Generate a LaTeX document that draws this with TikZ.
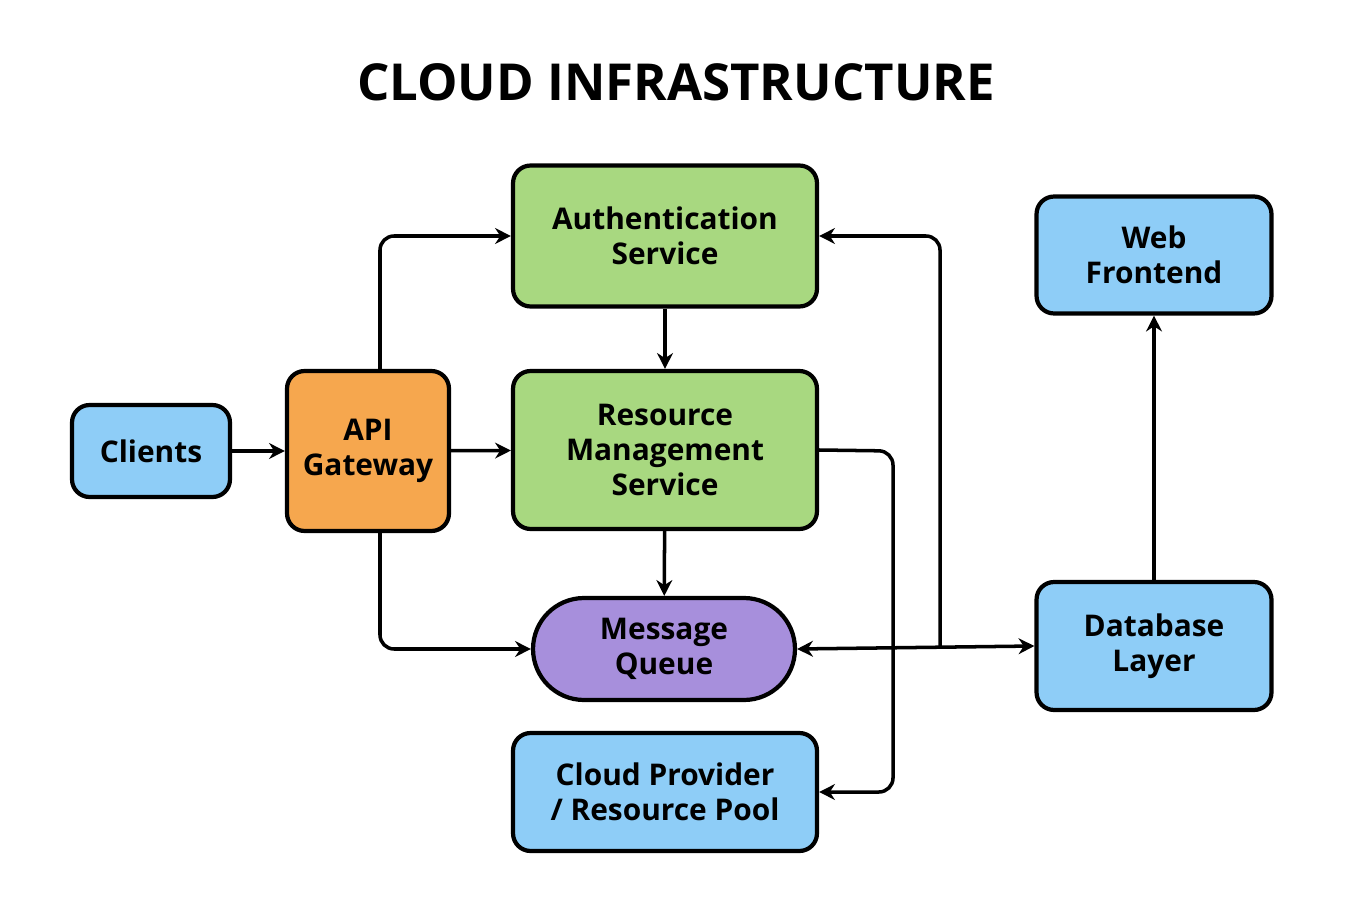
\documentclass[tikz,border=0pt]{standalone}
\usepackage{fontspec}
\setmainfont{Open Sans}
\usetikzlibrary{arrows.meta}
\definecolor{boxblue}{HTML}{8ECDF7}
\definecolor{boxgreen}{HTML}{A8D880}
\definecolor{boxorange}{HTML}{F6A74E}
\definecolor{boxpurple}{HTML}{A78FDC}
\tikzset{
	box/.style={draw=black, line width=2.4pt, rounded corners=10pt, align=center,
		font=\fontsize{17}{20}\selectfont\bfseries, inner sep=2pt},
	link/.style={line width=2pt, -{Stealth[length=9pt,width=9pt]}, rounded corners=8pt},
}
\begin{document}
\begin{tikzpicture}[x=0.02cm,y=-0.02cm]
	\useasboundingbox (0,0) rectangle (1358,905);
	\node[font=\fontsize{29}{34}\selectfont\bfseries] (title) at (676,82) {CLOUD INFRASTRUCTURE};
	% boxes
	\node[box, fill=boxblue, minimum width=3.16cm, minimum height=1.84cm] (clients) at (151,451) {Clients};
	\node[box, fill=boxorange, minimum width=3.24cm, minimum height=3.2cm] (api) at (368,451) {API\\Gateway};
	\node[box, fill=boxgreen, minimum width=6.08cm, minimum height=2.82cm] (auth) at (665,236) {Authentication\\Service};
	\node[box, fill=boxgreen, minimum width=6.08cm, minimum height=3.16cm] (res) at (665,450) {Resource\\Management\\Service};
	\node[box, fill=boxpurple, rounded corners=1.02cm, minimum width=5.24cm, minimum height=2.04cm] (mq) at (664,649) {Message\\Queue};
	\node[box, fill=boxblue, minimum width=6.08cm, minimum height=2.36cm] (cloud) at (665,792) {Cloud Provider\\/ Resource Pool};
	\node[box, fill=boxblue, minimum width=4.7cm, minimum height=2.34cm] (web) at (1154,255) {Web\\Frontend};
	\node[box, fill=boxblue, minimum width=4.7cm, minimum height=2.56cm] (db) at (1154,646) {Database\\Layer};
	\coordinate (split) at (940,647);
	% connectors
	\draw[link] (clients) -- (api);
	\draw[link] (api) -- (res);
	\draw[link] (api.north -| 380,0) |- (auth.west);
	\draw[link] (api.south -| 380,0) |- (mq.west);
	\draw[link] (auth) -- (res);
	\draw[link] (res) -- (mq);
	\draw[link] (res.east) -- (893,451) |- (cloud.east);
	\draw[link, {Stealth[length=9pt,width=9pt]}-{Stealth[length=9pt,width=9pt]}] (mq.east) -- (db.west);
	\draw[link] (split) |- (auth.east);
	\draw[link] (db) -- (web);
\end{tikzpicture}
\end{document}
